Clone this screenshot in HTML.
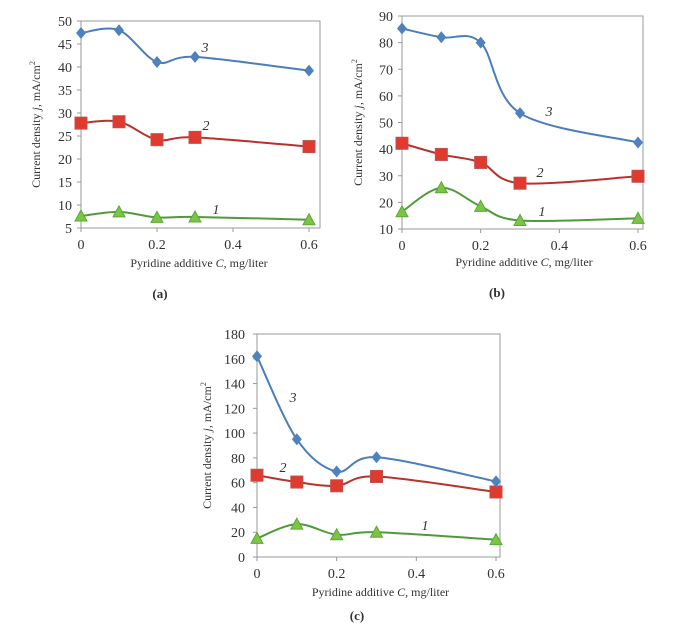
<!DOCTYPE html>
<html><head><meta charset="utf-8">
<style>
body{margin:0;background:#fff;width:685px;height:641px;overflow:hidden}
svg{display:block}
text{font-family:"Liberation Serif",serif;fill:#333}
</style></head><body>
<svg id="svg" width="685" height="641" xmlns="http://www.w3.org/2000/svg"></svg>
<script>
const xCats=[0,0.1,0.2,0.3,0.6];
const xTicks=[0,0.2,0.4,0.6];
const xTickLabels=["0","0.2","0.4","0.6"];
const aS1=[7.6,8.5,7.3,7.4,6.8];
const aS2=[27.8,28.1,24.2,24.7,22.7];
const aS3=[47.4,48,41.1,42.2,39.2];
const aYTicks=[5,10,15,20,25,30,35,40,45,50];
const bS1=[16.5,25.5,18.5,13.2,14];
const bS2=[42.2,38,35,27.2,29.8];
const bS3=[85.3,82,80,53.5,42.5];
const bYTicks=[10,20,30,40,50,60,70,80,90];
const cS1=[15,26.5,18,20,14];
const cS2=[66,60.5,57.5,65,52.5];
const cS3=[162,95,69,80.5,61];
const cYTicks=[0,20,40,60,80,100,120,140,160,180];

const NS="http://www.w3.org/2000/svg";
const svg=document.getElementById('svg');
function mk(tag,attrs,parent){const e=document.createElementNS(NS,tag);for(const k in attrs)e.setAttribute(k,attrs[k]);(parent||svg).appendChild(e);return e;}

const panels=[
 {id:'a',left:81,x06:309,right:320,top:21,bottom:228,ymin:5,ymax:50,yT:aYTicks,s:[aS1,aS2,aS3],
  lab:[[216,214],[206,130],[205,52]],ytitleX:40,xtitleY:267,capX:160,capY:298,tickLX:72},
 {id:'b',left:402,x06:638,right:643,top:16,bottom:229,ymin:10,ymax:90,yT:bYTicks,s:[bS1,bS2,bS3],
  lab:[[542,216],[540,177],[549,116]],ytitleX:362,xtitleY:266,capX:497,capY:297,tickLX:393},
 {id:'c',left:257,x06:496,right:500,top:334,bottom:557,ymin:0,ymax:180,yT:cYTicks,s:[cS1,cS2,cS3],
  lab:[[425,530],[283,472],[293,402]],ytitleX:211,xtitleY:596,capX:357,capY:620,tickLX:245}
];
const colors=[{line:'#4f9a3a',fill:'#7cc443',stroke:'#5aa83a',m:'tri'},{line:'#b8312b',fill:'#e0392e',stroke:'#c0504d',m:'sq'},{line:'#4a7ebb',fill:'#4f81bd',stroke:'#4f81bd',m:'dia'}];

function smooth(pts){let d=`M${pts[0][0]},${pts[0][1]}`;for(let i=0;i<pts.length-1;i++){const p0=pts[i-1]||pts[i],p1=pts[i],p2=pts[i+1],p3=pts[i+2]||p2;const t=0.5/3;
 const c1=[p1[0]+(p2[0]-p0[0])*t,p1[1]+(p2[1]-p0[1])*t],c2=[p2[0]-(p3[0]-p1[0])*t,p2[1]-(p3[1]-p1[1])*t];d+=`C${c1[0]},${c1[1]} ${c2[0]},${c2[1]} ${p2[0]},${p2[1]}`;}return d;}

panels.forEach(p=>{
 const g=mk('g',{});
 
 
 const xs=v=>p.left+(p.x06-p.left)*v/0.6;
 const ys=v=>p.bottom-(p.bottom-p.top)*(v-p.ymin)/(p.ymax-p.ymin);
 const box=mk('rect',{x:p.left,y:p.top,width:p.right-p.left,height:p.bottom-p.top,fill:'none',stroke:'#999','stroke-width':1},g);
 
 
 p.yT.forEach(v=>{const t=mk('text',{x:p.tickLX,y:ys(v)+5,'text-anchor':'end','font-size':14},g);t.textContent=v;
  
  mk('line',{x1:p.left-4,x2:p.left,y1:ys(v),y2:ys(v),stroke:'#999'},g);});
 xTicks.forEach((v,i)=>{const t=mk('text',{x:xs(v),y:p.bottom+21,'text-anchor':'middle','font-size':14},g);t.textContent=xTickLabels[i];
  
  mk('line',{x1:xs(v),x2:xs(v),y1:p.bottom,y2:p.bottom+4,stroke:'#999'},g);});
 const yt=mk('text',{transform:`translate(${p.ytitleX},${(p.top+p.bottom)/2}) rotate(-90)`,'text-anchor':'middle','font-size':12},g);
 yt.innerHTML='Current density <tspan font-style="italic">j</tspan>, mA/cm<tspan font-size="8" dy="-5">2</tspan>';
 
 const xt=mk('text',{x:(p.left+p.x06)/2+4,y:p.xtitleY,'text-anchor':'middle','font-size':12},g);
 xt.innerHTML='Pyridine additive <tspan font-style="italic">C</tspan>, mg/liter';
 
 const cap=mk('text',{x:p.capX,y:p.capY,'text-anchor':'middle','font-size':13,'font-weight':'bold'},g);cap.textContent='('+p.id+')';
 
 p.s.forEach((s,si)=>{const c=colors[si];const pts=s.map((v,i)=>[xs(xCats[i]),ys(v)]);
  const path=mk('path',{d:smooth(pts),fill:'none',stroke:c.line,'stroke-width':2},g);
  
  pts.forEach(q=>{let m;
   if(c.m==='tri')m=mk('polygon',{points:`${q[0]},${q[1]-6} ${q[0]-6},${q[1]+5} ${q[0]+6},${q[1]+5}`,fill:c.fill,stroke:c.stroke},g);
   else if(c.m==='sq')m=mk('rect',{x:q[0]-6,y:q[1]-6,width:12,height:12,fill:c.fill,stroke:c.stroke},g);
   else m=mk('polygon',{points:`${q[0]},${q[1]-6} ${q[0]+5},${q[1]} ${q[0]},${q[1]+6} ${q[0]-5},${q[1]}`,fill:c.fill},g);
   });
  const l=mk('text',{x:p.lab[si][0],y:p.lab[si][1],'font-size':14,'font-style':'italic','text-anchor':'middle'},g);l.textContent=String(si+1);
  
 });
});
</script>
</body></html>
